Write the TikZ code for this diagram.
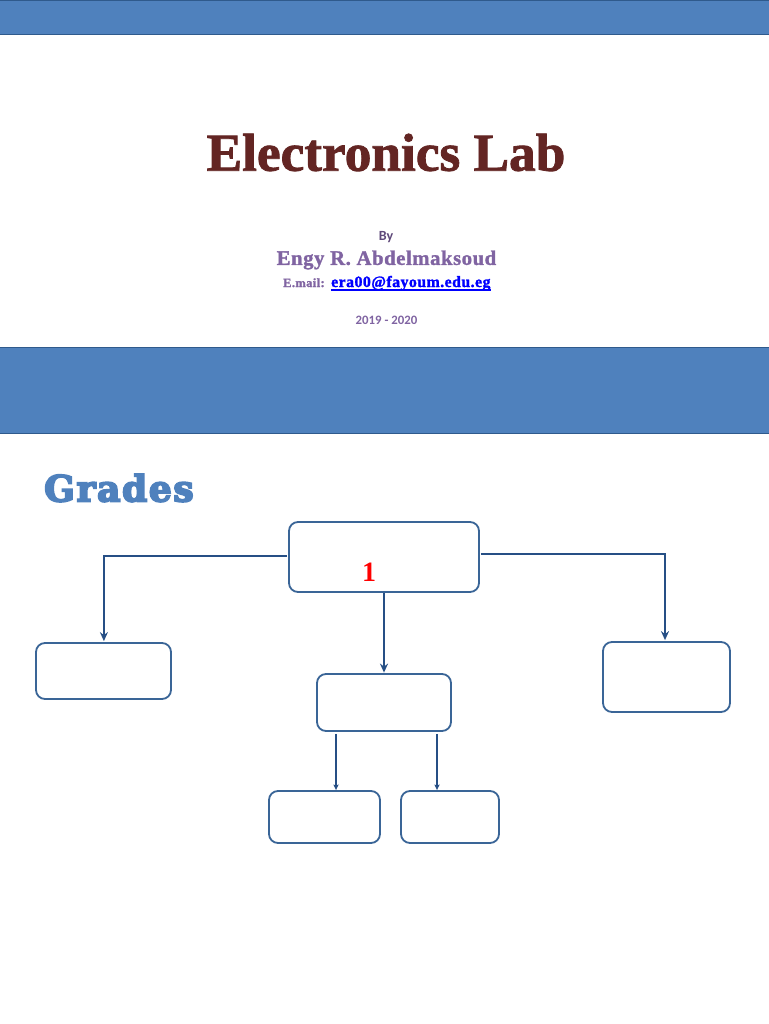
\documentclass[tikz,border=0pt]{standalone}
\usepackage{fontspec}
\setmainfont{Liberation Serif}
\newfontfamily\calibrif{Carlito}
\newfontfamily\titlef[RawFeature={embolden=1.5}]{Liberation Serif Bold}
\newfontfamily\namef[RawFeature={embolden=1.5},LetterSpace=3]{Liberation Serif Bold}
\newfontfamily\gradef[RawFeature={embolden=5},LetterSpace=4.5]{DejaVu Serif Bold}
\definecolor{barblue}{HTML}{4F81BD}
\definecolor{baredge}{HTML}{2F5A8C}
\definecolor{boxedge}{HTML}{3A6597}
\definecolor{arrowblue}{HTML}{264F85}
\definecolor{titlered}{HTML}{632523}
\definecolor{purp}{HTML}{8064A2}
\definecolor{darkpurp}{HTML}{5F497A}
\definecolor{linkblue}{HTML}{0000FF}
\usetikzlibrary{arrows.meta}
\tikzset{
  x=1pt,y=-1pt,
  bar/.style={draw=baredge,fill=barblue,line width=0.8pt},
  gradebox/.style={draw=boxedge,line width=1.8pt,rounded corners=9pt,fill=white,inner sep=0pt},
  link/.style={draw=arrowblue,line width=2.1pt,-{Stealth[length=9pt,width=8pt,inset=3pt]}},
  smalllink/.style={draw=arrowblue,line width=1.6pt,-{Stealth[length=5.5pt,width=5pt,inset=1pt]}},
}
\begin{document}
\begin{tikzpicture}
\useasboundingbox (0,0) rectangle (768,1024);
\fill[white] (0,0) rectangle (768,1024);
\node[bar,minimum width=770pt,minimum height=34pt,inner sep=0pt] (topbar) at (384,17) {};
\node[bar,minimum width=770pt,minimum height=86pt,inner sep=0pt] (midbar) at (384,390) {};
\node[text=titlered,font=\titlef\fontsize{53.3}{54}\selectfont,inner sep=0pt] (title) at (386,152.5) {Electronics Lab};
\node[text=darkpurp,font=\calibrif\bfseries\fontsize{14}{14}\selectfont,inner sep=0pt] (by) at (386,237) {By};
\node[text=purp,font=\namef\fontsize{20.6}{21}\selectfont,inner sep=0pt] (name) at (386.5,260) {Engy R. Abdelmaksoud};
\node[anchor=base west,inner sep=0pt,text=purp,font=\namef\fontsize{12.5}{13}\selectfont] (mail) at (283,287) {E.mail:};
\node[anchor=base west,inner sep=0pt,text=linkblue,font=\namef\fontsize{15.8}{16}\selectfont] (addr) at (331,287) {era00@fayoum.edu.eg};
\draw[linkblue,line width=1.1pt] (addr.base west)++(0,3) -- ([yshift=-3pt]addr.base east);
\node[text=purp,font=\calibrif\bfseries\fontsize{12.8}{13}\selectfont,inner sep=0pt] (years) at (386.5,320) {2019 - 2020};
\node[anchor=west,text=barblue,font=\gradef\fontsize{36}{36}\selectfont,inner sep=0pt] (grades) at (44,488) {Grades};
\node[gradebox,minimum width=190pt,minimum height=70pt] (top) at (384,557) {};
\node[gradebox,minimum width=135pt,minimum height=56pt] (left) at (103.5,671) {};
\node[gradebox,minimum width=134pt,minimum height=57pt] (mid) at (384,702.5) {};
\node[gradebox,minimum width=127pt,minimum height=70pt] (right) at (666.5,677) {};
\node[gradebox,minimum width=111pt,minimum height=52pt] (bone) at (324.5,817) {};
\node[gradebox,minimum width=98pt,minimum height=52pt] (btwo) at (450,817) {};
\node[text=red,font=\bfseries\fontsize{28}{28}\selectfont,inner sep=0pt] (one) at (369,572) {1};
\draw[link] ([xshift=-1pt,yshift=0.6pt]top.west) -| ([xshift=0.4pt,yshift=1pt]left.north);
\draw[link] ([xshift=1pt,yshift=3pt]top.east) -| ([xshift=-1.5pt,yshift=1pt]right.north);
\draw[link] (top.south) -- ([yshift=0.5pt]mid.north);
\draw[smalllink] ([xshift=-48pt,yshift=-2pt]mid.south) -- ([xshift=11.5pt]bone.north);
\draw[smalllink] ([xshift=53pt,yshift=-2pt]mid.south) -- ([xshift=-13pt]btwo.north);
\end{tikzpicture}
\end{document}
